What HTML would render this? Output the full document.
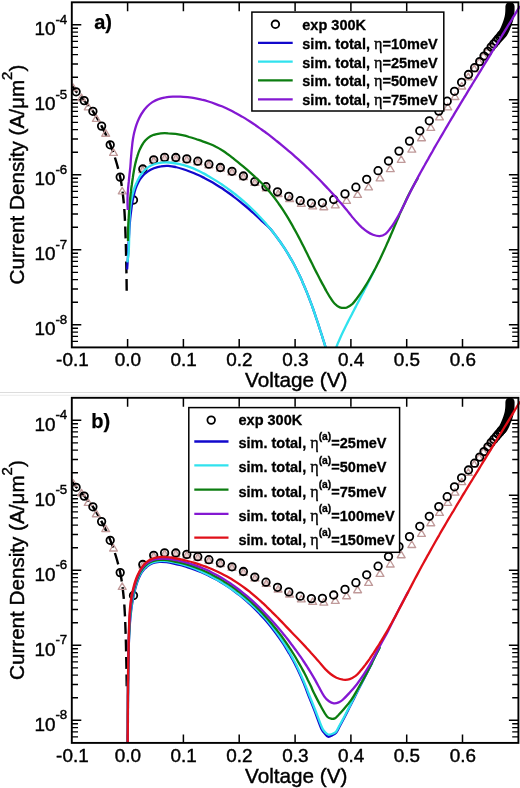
<!DOCTYPE html>
<html lang="en"><head><meta charset="utf-8"><title>Current density vs voltage</title>
<style>
html,body{margin:0;padding:0;background:#fff}
body{width:520px;height:788px;overflow:hidden}
svg{display:block}
.t text{font-family:"Liberation Sans", sans-serif;fill:#000}
.r text{stroke:#000;stroke-width:.42px}
</style></head><body>
<svg width="520" height="788" viewBox="0 0 520 788">
<defs><clipPath id="ca"><rect x="71.8" y="2.3" width="448.6" height="345.1"/></clipPath><clipPath id="cb"><rect x="71.8" y="397.8" width="448.6" height="345.1"/></clipPath></defs>
<filter id="soft" x="0" y="0" width="100%" height="100%" filterUnits="userSpaceOnUse" color-interpolation-filters="sRGB"><feGaussianBlur stdDeviation="0.38"/></filter>
<g filter="url(#soft)">
<rect width="520" height="788" fill="#fff"/>
<path d="M0 392.5H520" stroke="#dcdcdc" stroke-width="1.2"/><path d="M0 395.3H520" stroke="#ececec" stroke-width="1"/>
<g class="t">
<path d="M127.6 2.3v9M127.6 347.4v-8.5M183.4 2.3v9M183.4 347.4v-8.5M239.2 2.3v9M239.2 347.4v-8.5M295.1 2.3v9M295.1 347.4v-8.5M350.9 2.3v9M350.9 347.4v-8.5M406.7 2.3v9M406.7 347.4v-8.5M462.5 2.3v9M462.5 347.4v-8.5" stroke="#000" stroke-width="1.5" fill="none"/>
<path d="M71.8 341.4h6.2M518.4 341.4h-6.2M71.8 336.4h6.2M518.4 336.4h-6.2M71.8 332.1h6.2M518.4 332.1h-6.2M71.8 328.2h6.2M518.4 328.2h-6.2M71.8 324.8h9.5M518.4 324.8h-9.5M71.8 302.2h6.2M518.4 302.2h-6.2M71.8 289h6.2M518.4 289h-6.2M71.8 279.6h6.2M518.4 279.6h-6.2M71.8 272.4h6.2M518.4 272.4h-6.2M71.8 266.4h6.2M518.4 266.4h-6.2M71.8 261.4h6.2M518.4 261.4h-6.2M71.8 257.1h6.2M518.4 257.1h-6.2M71.8 253.2h6.2M518.4 253.2h-6.2M71.8 249.8h9.5M518.4 249.8h-9.5M71.8 227.2h6.2M518.4 227.2h-6.2M71.8 214h6.2M518.4 214h-6.2M71.8 204.6h6.2M518.4 204.6h-6.2M71.8 197.4h6.2M518.4 197.4h-6.2M71.8 191.4h6.2M518.4 191.4h-6.2M71.8 186.4h6.2M518.4 186.4h-6.2M71.8 182.1h6.2M518.4 182.1h-6.2M71.8 178.2h6.2M518.4 178.2h-6.2M71.8 174.8h9.5M518.4 174.8h-9.5M71.8 152.2h6.2M518.4 152.2h-6.2M71.8 139h6.2M518.4 139h-6.2M71.8 129.6h6.2M518.4 129.6h-6.2M71.8 122.4h6.2M518.4 122.4h-6.2M71.8 116.4h6.2M518.4 116.4h-6.2M71.8 111.4h6.2M518.4 111.4h-6.2M71.8 107.1h6.2M518.4 107.1h-6.2M71.8 103.2h6.2M518.4 103.2h-6.2M71.8 99.8h9.5M518.4 99.8h-9.5M71.8 77.2h6.2M518.4 77.2h-6.2M71.8 64h6.2M518.4 64h-6.2M71.8 54.6h6.2M518.4 54.6h-6.2M71.8 47.4h6.2M518.4 47.4h-6.2M71.8 41.4h6.2M518.4 41.4h-6.2M71.8 36.4h6.2M518.4 36.4h-6.2M71.8 32.1h6.2M518.4 32.1h-6.2M71.8 28.2h6.2M518.4 28.2h-6.2M71.8 24.8h9.5M518.4 24.8h-9.5" stroke="#000" stroke-width="1.4" fill="none"/>
<g clip-path="url(#ca)">
<path d="M71.8 85.5C73.2 87.5 74.5 89.6 76.1 91.5C78.7 94.6 81.6 97.5 84.2 100.6C87.2 104.1 90.3 107.5 92.9 111.3C96.1 116 99 121 101.6 126.1C104.8 132.1 107.7 138.3 110.3 144.6C112.5 149.9 114.3 155.5 116 161C117.6 166.3 119 171.7 120.2 177.1C121.2 182 122 187 122.6 192C123.4 198.6 124.1 205.3 124.5 212C125.1 221.3 125.4 230.7 125.7 240C126 248.3 126.1 256.7 126.3 265C126.5 273.6 126.6 282.2 126.7 290.8" fill="none" stroke="#000" stroke-width="2.4" stroke-dasharray="11.9 5.6" stroke-dashoffset="2.86"/>
<path d="M73.2 84l3.9 6.5h-7.8zM81.5 94l3.9 6.5h-7.8zM88.2 103.3l3.9 6.5h-7.8zM96.3 114.8l3.9 6.5h-7.8zM105.7 129.7l3.9 6.5h-7.8zM113.5 148.9l3.9 6.5h-7.8zM122.2 187.3l3.9 6.5h-7.8zM301.3 199.8l3.9 6.5h-7.8zM312.7 202.3l3.9 6.5h-7.8zM323.8 203.2l3.9 6.5h-7.8zM335.3 201.3l3.9 6.5h-7.8zM346.6 196.8l3.9 6.5h-7.8zM357.6 190.8l3.9 6.5h-7.8zM368.6 183.3l3.9 6.5h-7.8zM380 174.3l3.9 6.5h-7.8zM390.3 165.1l3.9 6.5h-7.8zM401.2 155.8l3.9 6.5h-7.8zM411.8 145.6l3.9 6.5h-7.8zM421.5 134.2l3.9 6.5h-7.8zM430.8 123.8l3.9 6.5h-7.8zM439.5 113.3l3.9 6.5h-7.8zM447.8 103.3l3.9 6.5h-7.8zM455 93l3.9 6.5h-7.8zM461.8 82.5l3.9 6.5h-7.8zM468.3 73.2l3.9 6.5h-7.8zM474.2 65.2l3.9 6.5h-7.8zM479.2 58.4l3.9 6.5h-7.8zM483.4 52.5l3.9 6.5h-7.8zM487.3 47.5l3.9 6.5h-7.8zM490.5 43.2l3.9 6.5h-7.8z" fill="none" stroke="#c09a9a" stroke-width="1.35" stroke-linejoin="round"/>
<path d="M142.8 166.1l3.9 6.5h-7.8zM153.7 156.9l3.9 6.5h-7.8zM164.6 154.5l3.9 6.5h-7.8zM175.8 154.6l3.9 6.5h-7.8zM186.8 156l3.9 6.5h-7.8zM197.8 158.2l3.9 6.5h-7.8zM208.9 161.2l3.9 6.5h-7.8zM220.4 164.6l3.9 6.5h-7.8zM232 168.4l3.9 6.5h-7.8zM243.4 173.1l3.9 6.5h-7.8zM254.9 178.9l3.9 6.5h-7.8zM266.3 184.4l3.9 6.5h-7.8zM278.1 190l3.9 6.5h-7.8zM289.6 195.1l3.9 6.5h-7.8z" fill="#e9d2d2" stroke="#c09a9a" stroke-width="1.35" stroke-linejoin="round"/>
<g fill="none" stroke="#000" stroke-width="1.8"><circle cx="76.1" cy="91.8" r="3.75"/><circle cx="84.2" cy="100.6" r="3.75"/><circle cx="92.9" cy="111.3" r="3.75"/><circle cx="101.6" cy="126.1" r="3.75"/><circle cx="110.2" cy="144.8" r="3.75"/><circle cx="120.2" cy="177.1" r="3.75"/><circle cx="133.5" cy="200" r="3.75"/><circle cx="142.8" cy="169" r="3.75"/><circle cx="153.7" cy="159.8" r="3.75"/><circle cx="164.6" cy="157.4" r="3.75"/><circle cx="175.8" cy="157.5" r="3.75"/><circle cx="186.8" cy="158.9" r="3.75"/><circle cx="197.8" cy="161.2" r="3.75"/><circle cx="208.9" cy="164.2" r="3.75"/><circle cx="220.4" cy="167.5" r="3.75"/><circle cx="232" cy="171.3" r="3.75"/><circle cx="243.4" cy="176" r="3.75"/><circle cx="254.8" cy="181.6" r="3.75"/><circle cx="266" cy="186.7" r="3.75"/><circle cx="277.5" cy="191.8" r="3.75"/><circle cx="288.8" cy="196.4" r="3.75"/><circle cx="300.2" cy="200.7" r="3.75"/><circle cx="311.4" cy="203.1" r="3.75"/><circle cx="322.4" cy="202.8" r="3.75"/><circle cx="333.7" cy="199.5" r="3.75"/><circle cx="345" cy="193.9" r="3.75"/><circle cx="355.9" cy="187.2" r="3.75"/><circle cx="366.7" cy="179.3" r="3.75"/><circle cx="378.1" cy="170.7" r="3.75"/><circle cx="388.5" cy="161" r="3.75"/><circle cx="399" cy="151.1" r="3.75"/><circle cx="409.5" cy="141.1" r="3.75"/><circle cx="419.8" cy="130.8" r="3.75"/><circle cx="429.3" cy="120.8" r="3.75"/><circle cx="438.8" cy="111.1" r="3.75"/><circle cx="447.2" cy="101.2" r="3.75"/><circle cx="454.5" cy="91.3" r="3.75"/><circle cx="461.6" cy="82.3" r="3.75"/><circle cx="468.5" cy="74.5" r="3.75"/><circle cx="474.6" cy="67.7" r="3.75"/><circle cx="479.7" cy="61.6" r="3.75"/><circle cx="484" cy="56.1" r="3.75"/><circle cx="487.9" cy="51.3" r="3.75"/><circle cx="491.1" cy="47" r="3.75"/><circle cx="493.8" cy="43.9" r="3.75"/><circle cx="496.1" cy="41.2" r="3.75"/><circle cx="498.1" cy="38.8" r="3.75"/><circle cx="499.9" cy="36.7" r="3.75"/><circle cx="501.4" cy="34.9" r="3.75"/></g>
<path d="M502.9 33.4C503.7 31.9 504.5 30.4 505.2 28.8C506 26.9 506.8 25 507.5 23C508.2 21.1 508.8 19.2 509.2 17.3C509.6 15.4 509.8 13.4 509.9 11.5C510 9.9 510 8.2 510 6.6" fill="none" stroke="#000" stroke-width="9.2" stroke-linecap="round"/>
<path d="M127.1 269.5C127.3 267 127.5 264.5 127.6 262C127.8 259.5 127.9 257.1 128.1 254.6C128.2 252.2 128.3 249.8 128.4 247.4C128.5 245 128.6 242.6 128.8 240.2C128.9 237.8 129 235.5 129.2 233.1C129.3 230.7 129.4 228.3 129.6 225.9C129.8 223.5 130 221.1 130.2 218.7C130.5 216.3 130.7 213.8 131.1 211.4C131.4 208.9 131.7 206.4 132.1 203.9C132.5 201.4 132.9 198.9 133.5 196.4C134.1 193.9 134.7 191.4 135.5 189C136.3 186.7 137.2 184.4 138.4 182.2C139.5 180.1 140.8 178.1 142.4 176.3C143.9 174.5 145.7 172.9 147.6 171.6C149.6 170.2 151.7 169.1 153.9 168.2C156.2 167.3 158.6 166.6 160.9 166.3C163.3 165.9 165.8 165.8 168.2 165.9C170.6 166.1 173.1 166.5 175.5 167C177.9 167.6 180.3 168.3 182.6 169C185 169.8 187.3 170.6 189.6 171.5C191.9 172.4 194.2 173.3 196.4 174.3C198.7 175.3 200.9 176.3 203.1 177.4C205.2 178.5 207.4 179.6 209.5 180.8C211.7 182 213.8 183.2 215.8 184.4C217.9 185.7 220 187 222 188.3C224 189.7 226.1 191 228 192.5C230 193.9 232 195.3 233.9 196.8C235.9 198.3 237.8 199.8 239.7 201.3C241.6 202.8 243.5 204.4 245.4 206C247.2 207.5 249.1 209.1 250.9 210.8C252.7 212.4 254.5 214.1 256.3 215.7C258.1 217.4 259.9 219.1 261.7 220.8C264.3 223.2 267.2 225.5 269.7 228.1C271.4 229.8 272.8 231.8 274.2 233.7C275.7 235.6 277.1 237.5 278.5 239.5C279.9 241.4 281.3 243.4 282.6 245.4C284 247.4 285.3 249.4 286.5 251.4C287.8 253.4 289 255.5 290.2 257.6C291.4 259.6 292.6 261.7 293.7 263.8C294.8 265.9 295.9 268 297 270.2C298.1 272.3 299.1 274.5 300.1 276.6C301.1 278.8 302.1 281 303 283.2C304 285.4 304.9 287.6 305.8 289.8C306.7 292 307.6 294.3 308.5 296.5C309.3 298.7 310.2 301 311 303.2C311.9 305.5 312.7 307.8 313.5 310C314.3 312.3 315 314.6 315.8 316.8C316.6 319.1 317.3 321.4 318.1 323.7C318.8 326 319.6 328.3 320.3 330.6C321.1 332.8 321.8 335.1 322.5 337.4C323.2 339.7 324 342 324.7 344.3C325.4 346.6 326.1 348.9 326.8 351.2C327.6 353.4 328.3 355.7 329 358" fill="none" stroke="#1208cc" stroke-width="2.3" stroke-linejoin="round" />
<path d="M127.4 262.4C127.7 260 128.1 257.7 128.3 255.3C128.6 253 128.7 250.6 128.9 248.2C129 245.8 129.1 243.4 129.1 241C129.2 238.6 129.2 236.2 129.2 233.8C129.3 231.3 129.3 228.9 129.3 226.5C129.4 224.1 129.4 221.7 129.5 219.2C129.6 216.8 129.7 214.4 129.9 212C130.1 209.6 130.3 207.2 130.6 204.8C130.9 202.4 131.3 200.1 131.8 197.7C132.3 195.3 132.9 193 133.6 190.7C134.3 188.3 135.1 186 136.1 183.8C137 181.5 138.1 179.3 139.3 177.2C140.6 175.2 141.9 173.2 143.5 171.5C145 169.8 146.7 168.2 148.6 166.9C150.5 165.7 152.7 164.7 154.8 164C157 163.2 159.4 162.8 161.8 162.6C164.2 162.4 166.7 162.4 169.2 162.5C171.7 162.7 174.2 163 176.6 163.5C179 163.9 181.4 164.5 183.7 165.1C186 165.8 188.3 166.5 190.6 167.4C192.8 168.2 195 169.2 197.2 170.2C199.3 171.2 201.4 172.3 203.6 173.4C205.7 174.5 207.7 175.7 209.8 176.9C211.9 178.1 213.9 179.3 215.9 180.6C217.9 181.9 220 183.2 221.9 184.5C223.9 185.9 225.9 187.2 227.8 188.7C229.8 190.1 231.7 191.5 233.6 193C235.5 194.4 237.4 195.9 239.2 197.5C241.1 199 242.9 200.6 244.7 202.2C246.5 203.7 248.3 205.4 250 207C251.8 208.7 253.5 210.3 255.2 212C256.9 213.7 258.6 215.5 260.2 217.2C261.9 219 263.5 220.8 265.1 222.6C266.6 224.4 268.2 226.2 269.7 228.1C271.3 229.9 272.8 231.8 274.2 233.7C275.7 235.6 277.1 237.5 278.5 239.5C279.9 241.4 281.3 243.4 282.6 245.4C284 247.4 285.3 249.4 286.5 251.4C287.8 253.4 289 255.5 290.2 257.6C291.4 259.6 292.6 261.7 293.7 263.8C294.8 265.9 295.9 268 297 270.2C298.1 272.3 299.1 274.5 300.1 276.6C301.1 278.8 302.1 281 303 283.2C304 285.4 304.9 287.6 305.8 289.8C306.7 292 307.6 294.3 308.5 296.5C309.3 298.7 310.2 301 311 303.2C311.9 305.5 312.7 307.8 313.5 310C314.3 312.3 315 314.6 315.8 316.8C316.6 319.1 317.3 321.4 318.1 323.7C318.8 326 319.6 328.3 320.3 330.6C321.1 332.8 321.8 335.1 322.5 337.4C323.2 339.7 324 342 324.7 344.3C325.4 346.6 326.1 348.9 326.8 351.2C327.6 353.4 328.3 355.7 329 358" fill="none" stroke="#30e2ee" stroke-width="2.3" stroke-linejoin="round" />
<path d="M332.5 358C333.4 355.4 334.2 352.8 335.1 350.3C336.1 347.8 337.1 345.2 338.1 342.7C339.2 340.2 340.3 337.8 341.4 335.3C342.6 332.8 343.7 330.4 344.9 327.9C346.1 325.5 347.4 323.1 348.6 320.6C349.8 318.2 351.1 315.8 352.3 313.4C353.6 311 354.8 308.5 356.1 306.1C357.3 303.7 358.6 301.3 359.8 298.9C361.1 296.5 362.3 294.1 363.6 291.6C364.8 289.2 366.1 286.8 367.3 284.4C368.5 281.9 369.8 279.5 371 277.1C372.2 274.7 373.4 272.2 374.6 269.8" fill="none" stroke="#30e2ee" stroke-width="2.3" stroke-linejoin="round" />
<path d="M128 241C128 238.6 128 236.3 128.1 233.9C128.1 231.5 128.2 229.2 128.2 226.8C128.3 224.4 128.4 222.1 128.6 219.7C128.7 217.3 128.8 214.9 129 212.5C129.1 210.2 129.3 207.8 129.5 205.4C129.7 203 129.9 200.7 130.2 198.3C130.4 195.9 130.7 193.6 131 191.2C131.2 188.9 131.5 186.5 131.9 184.2C132.2 181.8 132.5 179.5 132.9 177.2C133.2 174.9 133.6 172.5 134 170.2C134.4 167.9 134.9 165.6 135.4 163.3C136 161 136.5 158.6 137.3 156.3C138 154 138.8 151.7 139.8 149.4C140.8 147.3 141.8 145.1 143.2 143.2C144.5 141.3 146 139.5 147.8 138.1C149.5 136.7 151.6 135.6 153.7 134.8C156 134 158.4 133.7 160.8 133.4C163.3 133.1 165.8 133.2 168.3 133.3C170.7 133.3 173.1 133.6 175.5 133.9C177.8 134.2 180.1 134.7 182.4 135.2C184.7 135.7 187 136.3 189.2 137C191.5 137.6 193.7 138.3 195.9 139C198.2 139.8 200.4 140.5 202.6 141.3C204.9 142.1 207.1 142.9 209.3 143.8C211.6 144.7 213.8 145.6 215.9 146.7C218 147.7 220.1 148.9 222.1 150.2C224.1 151.4 226 152.8 227.9 154.3C229.9 155.7 231.7 157.2 233.6 158.7C235.4 160.2 237.3 161.7 239.1 163.2C240.9 164.7 242.8 166.2 244.6 167.7C246.4 169.2 248.2 170.7 250 172.3C251.7 173.8 253.5 175.4 255.2 177C257 178.6 258.7 180.2 260.3 181.8C262 183.5 263.7 185.2 265.3 186.9C266.9 188.7 268.4 190.4 270 192.3C271.5 194.1 273 196 274.5 197.9C275.9 199.8 277.3 201.7 278.7 203.7C280.1 205.6 281.5 207.6 282.8 209.6C284.1 211.6 285.4 213.7 286.6 215.7C287.9 217.8 289.1 219.8 290.3 221.9C291.5 223.9 292.7 226 293.8 228.1C295 230.1 296.1 232.2 297.2 234.3C298.3 236.4 299.4 238.4 300.5 240.5C301.5 242.6 302.6 244.7 303.7 246.8C304.7 248.9 305.8 251 306.8 253.1C307.8 255.2 308.9 257.3 309.9 259.4C311 261.5 312 263.6 313.1 265.7C314.1 267.9 315.2 270 316.3 272.1C317.4 274.2 318.5 276.4 319.6 278.5C320.7 280.6 321.8 282.8 323 284.9C324.2 287 325.3 289.2 326.5 291.3C327.8 293.4 328.9 295.6 330.3 297.7C331.6 299.7 332.8 301.9 334.5 303.5C336 305.1 337.8 306.6 339.8 307.3C341.8 308 344.5 308.1 346.6 307.6C348.7 307 350.8 305.4 352.5 303.9C354.2 302.3 355.5 300.2 357 298.2C358.4 296.3 359.8 294.3 361.2 292.3C362.5 290.4 363.8 288.4 365.1 286.3C366.4 284.3 367.6 282.3 368.8 280.2C370 278.2 371.2 276.1 372.3 274C373.5 272 374.6 269.9 375.7 267.8C376.8 265.7 377.8 263.5 378.9 261.4C379.9 259.3 380.9 257.2 381.9 255C382.9 252.9 383.9 250.7 384.9 248.6C385.9 246.4 386.8 244.2 387.8 242.1C388.7 239.9 389.7 237.7 390.6 235.5C391.5 233.4 392.5 231.2 393.4 229C394.3 226.8 395.2 224.6 396.2 222.4C397.1 220.3 398 218.1 399 215.9C399.9 213.7 400.9 211.6 401.8 209.4C402.8 207.3 403.8 205.1 404.8 203C405.8 200.8 406.8 198.7 407.8 196.6C408.8 194.5 409.9 192.4 411 190.3C412.1 188.2 413.2 186.1 414.4 184C415.6 181.9 416.8 179.9 418 177.8" fill="none" stroke="#0c7d10" stroke-width="2.3" stroke-linejoin="round" />
<path d="M127.8 210C127.7 207.6 127.5 205.2 127.5 202.8C127.5 200.4 127.5 198 127.6 195.6C127.7 193.2 127.9 190.9 128.1 188.5C128.3 186.1 128.5 183.8 128.8 181.4C129 179.1 129.3 176.7 129.5 174.4C129.8 172 130 169.7 130.3 167.3C130.5 164.9 130.7 162.5 130.8 160.2C131 157.8 131.2 155.4 131.4 153C131.6 150.6 131.8 148.2 132.1 145.8C132.3 143.5 132.6 141.1 133 138.7C133.4 136.4 133.8 134 134.4 131.7C135 129.4 135.6 127.1 136.4 124.8C137.2 122.6 138.1 120.3 139.1 118.2C140.2 116 141.3 113.9 142.7 112C144 110 145.5 108.2 147.1 106.5C148.7 104.9 150.5 103.3 152.4 102.1C154.3 100.9 156.4 99.8 158.6 99.1C160.8 98.3 163.2 97.7 165.5 97.4C167.9 97 170.4 96.8 172.9 96.7C175.3 96.6 177.8 96.6 180.3 96.7C182.7 96.8 185.1 97 187.5 97.2C189.9 97.5 192.3 97.8 194.6 98.2C197 98.6 199.3 99.1 201.6 99.7C203.9 100.2 206.2 100.8 208.5 101.5C210.7 102.2 213 103 215.2 103.8C217.4 104.6 219.6 105.4 221.8 106.3C224 107.3 226.1 108.2 228.3 109.3C230.4 110.3 232.5 111.3 234.6 112.5C236.7 113.6 238.8 114.7 240.9 115.9C242.9 117.1 245 118.3 247 119.6C249 120.9 251 122.2 253 123.5C255 124.8 257 126.2 258.9 127.6C260.9 129 262.8 130.4 264.8 131.8C266.7 133.2 268.6 134.7 270.5 136.1C272.4 137.6 274.3 139.1 276.1 140.6C278 142.1 279.8 143.5 281.7 145.1C283.5 146.6 285.3 148.1 287.1 149.6C288.9 151.1 290.7 152.7 292.5 154.2C294.3 155.8 296 157.3 297.8 158.9C299.6 160.5 301.3 162.1 303 163.7C304.7 165.3 306.5 166.9 308.2 168.5C309.9 170.2 311.6 171.8 313.2 173.5C314.9 175.1 316.6 176.8 318.3 178.5C319.9 180.2 321.6 181.9 323.2 183.6C324.9 185.3 326.5 187.1 328.1 188.8C329.7 190.6 331.3 192.3 333 194.1C334.6 195.9 336.2 197.7 337.7 199.5C339.3 201.3 340.9 203.2 342.5 205C344.1 206.9 345.6 208.8 347.2 210.6C348.7 212.5 350.3 214.5 351.8 216.4C353.4 218.3 354.9 220.2 356.6 222C358.2 223.8 359.8 225.6 361.5 227.2C363.3 228.7 365 230.3 367 231.5C368.9 232.8 370.9 233.9 373 234.7C375.1 235.5 377.5 236.2 379.6 236.1C381.7 236 384 235 385.6 233.8C387.5 232.4 388.9 230.2 390.4 228.3C391.9 226.4 393.2 224.4 394.5 222.3C395.8 220.3 397 218.2 398.2 216.1C399.4 214 400.5 211.9 401.6 209.8C402.7 207.6 403.7 205.5 404.8 203.3C405.8 201.2 406.8 199 407.9 196.9C409 194.7 410 192.6 411.1 190.5C412.2 188.3 413.3 186.2 414.4 184.1C415.5 182 416.6 179.9 417.7 177.8C418.8 175.7 420 173.6 421.1 171.5C422.3 169.4 423.4 167.4 424.6 165.3C425.7 163.2 426.9 161.1 428.1 159.1C429.2 157 430.4 154.9 431.6 152.9C432.8 150.8 433.9 148.7 435.1 146.7C436.3 144.6 437.5 142.5 438.7 140.5C439.9 138.4 441.1 136.4 442.3 134.3C443.5 132.3 444.7 130.2 445.9 128.2C447.1 126.1 448.3 124.1 449.5 122C450.7 120 452 117.9 453.2 115.9C454.4 113.8 455.6 111.8 456.9 109.7C458.1 107.7 459.3 105.7 460.5 103.6C461.8 101.6 463 99.5 464.2 97.5C465.5 95.5 466.7 93.4 467.9 91.4C469.2 89.4 470.4 87.3 471.6 85.3C472.9 83.3 474.1 81.2 475.4 79.2C476.6 77.2 477.9 75.1 479.1 73.1C480.3 71.1 481.6 69 482.8 67C484.1 65 485.3 62.9 486.6 60.9C487.8 58.9 489.1 56.8 490.3 54.8C491.5 52.8 492.8 50.7 494 48.7C495.3 46.7 496.5 44.7 497.8 42.6C499 40.6 500.2 38.6 501.5 36.5C502.7 34.5 504 32.5 505.2 30.4C506.4 28.4 507.7 26.4 508.9 24.3C510.2 22.3 511.4 20.3 512.6 18.2C513.9 16.2 515.1 14.2 516.3 12.1C517.5 10.1 518.8 8 520 6" fill="none" stroke="#8418d2" stroke-width="2.3" stroke-linejoin="round" />
</g>
<rect x="71.8" y="2.3" width="446.6" height="345.1" fill="none" stroke="#000" stroke-width="1.9"/>
<rect x="251.9" y="12.1" width="191.9" height="98.9" fill="#fff" stroke="#000" stroke-width="1.5"/>
<circle cx="275.4" cy="24.3" r="3.8" fill="none" stroke="#000" stroke-width="1.8"/>
<g font-size="14.5" font-weight="bold" stroke="#000" stroke-width="0.3">
<text x="302.3" y="29.6">exp 300K</text>
<path d="M258 42.9H292.7" stroke="#1208cc" stroke-width="2.3"/>
<text x="302.3" y="48.8">sim. total, <tspan font-family="'Liberation Serif', 'DejaVu Serif', serif" font-weight="normal" font-size="16.2" stroke-width="0.35">η</tspan>=10meV</text>
<path d="M258 61.7H292.7" stroke="#30e2ee" stroke-width="2.3"/>
<text x="302.3" y="67.6">sim. total, <tspan font-family="'Liberation Serif', 'DejaVu Serif', serif" font-weight="normal" font-size="16.2" stroke-width="0.35">η</tspan>=25meV</text>
<path d="M258 80.3H292.7" stroke="#0c7d10" stroke-width="2.3"/>
<text x="302.3" y="86.2">sim. total, <tspan font-family="'Liberation Serif', 'DejaVu Serif', serif" font-weight="normal" font-size="16.2" stroke-width="0.35">η</tspan>=50meV</text>
<path d="M258 99.4H292.7" stroke="#8418d2" stroke-width="2.3"/>
<text x="302.3" y="105.3">sim. total, <tspan font-family="'Liberation Serif', 'DejaVu Serif', serif" font-weight="normal" font-size="16.2" stroke-width="0.35">η</tspan>=75meV</text>
</g>
<g class="r">
<text x="34.4" y="335.4" font-size="18.9">10<tspan dy="-11.7" font-size="13.3">-8</tspan></text>
<text x="34.4" y="260.4" font-size="18.9">10<tspan dy="-11.7" font-size="13.3">-7</tspan></text>
<text x="34.4" y="185.4" font-size="18.9">10<tspan dy="-11.7" font-size="13.3">-6</tspan></text>
<text x="34.4" y="110.4" font-size="18.9">10<tspan dy="-11.7" font-size="13.3">-5</tspan></text>
<text x="34.4" y="35.4" font-size="18.9">10<tspan dy="-11.7" font-size="13.3">-4</tspan></text>
<text x="72.4" y="366.3" font-size="18.9" text-anchor="middle">-0.1</text>
<text x="127.9" y="366.3" font-size="18.9" text-anchor="middle">0.0</text>
<text x="183.7" y="366.3" font-size="18.9" text-anchor="middle">0.1</text>
<text x="239.5" y="366.3" font-size="18.9" text-anchor="middle">0.2</text>
<text x="295.4" y="366.3" font-size="18.9" text-anchor="middle">0.3</text>
<text x="351.2" y="366.3" font-size="18.9" text-anchor="middle">0.4</text>
<text x="407" y="366.3" font-size="18.9" text-anchor="middle">0.5</text>
<text x="462.8" y="366.3" font-size="18.9" text-anchor="middle">0.6</text>
<text x="296.2" y="387.2" font-size="20.7" text-anchor="middle">Voltage (V)</text>
<text transform="translate(23.9 174.6) rotate(-90)" font-size="20.65" text-anchor="middle">Current Density (A/μm<tspan dy="-11.5" font-size="15">2</tspan><tspan dy="11.5">)</tspan></text>
</g>
<text x="94.2" y="29.3" font-size="20" font-weight="bold" stroke="#000" stroke-width="0.25">a)</text>
<path d="M127.6 397.8v9M127.6 742.9v-8.5M183.4 397.8v9M183.4 742.9v-8.5M239.2 397.8v9M239.2 742.9v-8.5M295.1 397.8v9M295.1 742.9v-8.5M350.9 397.8v9M350.9 742.9v-8.5M406.7 397.8v9M406.7 742.9v-8.5M462.5 397.8v9M462.5 742.9v-8.5" stroke="#000" stroke-width="1.5" fill="none"/>
<path d="M71.8 736.9h6.2M518.4 736.9h-6.2M71.8 731.9h6.2M518.4 731.9h-6.2M71.8 727.6h6.2M518.4 727.6h-6.2M71.8 723.7h6.2M518.4 723.7h-6.2M71.8 720.3h9.5M518.4 720.3h-9.5M71.8 697.7h6.2M518.4 697.7h-6.2M71.8 684.5h6.2M518.4 684.5h-6.2M71.8 675.1h6.2M518.4 675.1h-6.2M71.8 667.9h6.2M518.4 667.9h-6.2M71.8 661.9h6.2M518.4 661.9h-6.2M71.8 656.9h6.2M518.4 656.9h-6.2M71.8 652.6h6.2M518.4 652.6h-6.2M71.8 648.7h6.2M518.4 648.7h-6.2M71.8 645.3h9.5M518.4 645.3h-9.5M71.8 622.7h6.2M518.4 622.7h-6.2M71.8 609.5h6.2M518.4 609.5h-6.2M71.8 600.1h6.2M518.4 600.1h-6.2M71.8 592.9h6.2M518.4 592.9h-6.2M71.8 586.9h6.2M518.4 586.9h-6.2M71.8 581.9h6.2M518.4 581.9h-6.2M71.8 577.6h6.2M518.4 577.6h-6.2M71.8 573.7h6.2M518.4 573.7h-6.2M71.8 570.3h9.5M518.4 570.3h-9.5M71.8 547.7h6.2M518.4 547.7h-6.2M71.8 534.5h6.2M518.4 534.5h-6.2M71.8 525.1h6.2M518.4 525.1h-6.2M71.8 517.9h6.2M518.4 517.9h-6.2M71.8 511.9h6.2M518.4 511.9h-6.2M71.8 506.9h6.2M518.4 506.9h-6.2M71.8 502.6h6.2M518.4 502.6h-6.2M71.8 498.7h6.2M518.4 498.7h-6.2M71.8 495.3h9.5M518.4 495.3h-9.5M71.8 472.7h6.2M518.4 472.7h-6.2M71.8 459.5h6.2M518.4 459.5h-6.2M71.8 450.1h6.2M518.4 450.1h-6.2M71.8 442.9h6.2M518.4 442.9h-6.2M71.8 436.9h6.2M518.4 436.9h-6.2M71.8 431.9h6.2M518.4 431.9h-6.2M71.8 427.6h6.2M518.4 427.6h-6.2M71.8 423.7h6.2M518.4 423.7h-6.2M71.8 420.3h9.5M518.4 420.3h-9.5" stroke="#000" stroke-width="1.4" fill="none"/>
<g clip-path="url(#cb)">
<path d="M71.8 481C73.2 483 74.5 485.1 76.1 487C78.7 490.1 81.6 493 84.2 496.1C87.2 499.6 90.3 503 92.9 506.8C96.1 511.5 99 516.5 101.6 521.6C104.8 527.6 107.7 533.8 110.3 540.1C112.5 545.4 114.3 551 116 556.5C117.6 561.8 119 567.2 120.2 572.6C121.2 577.5 122 582.5 122.6 587.5C123.4 594.1 124.1 600.8 124.5 607.5C125.1 616.8 125.4 626.2 125.7 635.5C126 643.8 126.1 652.2 126.3 660.5C126.5 669.1 126.6 677.7 126.7 686.3" fill="none" stroke="#000" stroke-width="2.4" stroke-dasharray="11.9 5.6" stroke-dashoffset="2.86"/>
<path d="M73.2 479.6l3.9 6.5h-7.8zM81.5 489.4l3.9 6.5h-7.8zM88.2 498.9l3.9 6.5h-7.8zM96.3 510.2l3.9 6.5h-7.8zM105.7 525.1l3.9 6.5h-7.8zM113.5 544.5l3.9 6.5h-7.8zM122.2 582.9l3.9 6.5h-7.8zM301.3 595.3l3.9 6.5h-7.8zM312.7 597.9l3.9 6.5h-7.8zM323.8 598.6l3.9 6.5h-7.8zM335.3 596.9l3.9 6.5h-7.8zM346.6 592.2l3.9 6.5h-7.8zM357.6 586.2l3.9 6.5h-7.8zM368.6 578.9l3.9 6.5h-7.8zM380 569.9l3.9 6.5h-7.8zM390.3 560.5l3.9 6.5h-7.8zM401.2 551.2l3.9 6.5h-7.8zM411.8 541l3.9 6.5h-7.8zM421.5 529.8l3.9 6.5h-7.8zM430.8 519.2l3.9 6.5h-7.8zM439.5 508.9l3.9 6.5h-7.8zM447.8 498.9l3.9 6.5h-7.8zM455 488.6l3.9 6.5h-7.8zM461.8 478.1l3.9 6.5h-7.8zM468.3 468.8l3.9 6.5h-7.8zM474.2 460.6l3.9 6.5h-7.8zM479.2 453.9l3.9 6.5h-7.8zM483.4 448.1l3.9 6.5h-7.8zM487.3 443.1l3.9 6.5h-7.8zM490.5 438.8l3.9 6.5h-7.8z" fill="none" stroke="#c09a9a" stroke-width="1.35" stroke-linejoin="round"/>
<path d="M142.8 561.5l3.9 6.5h-7.8zM153.7 552.4l3.9 6.5h-7.8zM164.6 550l3.9 6.5h-7.8zM175.8 550l3.9 6.5h-7.8zM186.8 551.5l3.9 6.5h-7.8zM197.8 553.8l3.9 6.5h-7.8zM208.9 556.8l3.9 6.5h-7.8zM220.4 560l3.9 6.5h-7.8zM232 563.9l3.9 6.5h-7.8zM243.4 568.5l3.9 6.5h-7.8zM254.9 574.4l3.9 6.5h-7.8zM266.3 579.9l3.9 6.5h-7.8zM278.1 585.5l3.9 6.5h-7.8zM289.6 590.6l3.9 6.5h-7.8z" fill="#e9d2d2" stroke="#c09a9a" stroke-width="1.35" stroke-linejoin="round"/>
<g fill="none" stroke="#000" stroke-width="1.8"><circle cx="76.1" cy="487.3" r="3.75"/><circle cx="84.2" cy="496.1" r="3.75"/><circle cx="92.9" cy="506.8" r="3.75"/><circle cx="101.6" cy="521.6" r="3.75"/><circle cx="110.2" cy="540.3" r="3.75"/><circle cx="120.2" cy="572.6" r="3.75"/><circle cx="133.5" cy="595.5" r="3.75"/><circle cx="142.8" cy="564.5" r="3.75"/><circle cx="153.7" cy="555.3" r="3.75"/><circle cx="164.6" cy="552.9" r="3.75"/><circle cx="175.8" cy="553" r="3.75"/><circle cx="186.8" cy="554.4" r="3.75"/><circle cx="197.8" cy="556.7" r="3.75"/><circle cx="208.9" cy="559.7" r="3.75"/><circle cx="220.4" cy="563" r="3.75"/><circle cx="232" cy="566.8" r="3.75"/><circle cx="243.4" cy="571.5" r="3.75"/><circle cx="254.8" cy="577.1" r="3.75"/><circle cx="266" cy="582.2" r="3.75"/><circle cx="277.5" cy="587.3" r="3.75"/><circle cx="288.8" cy="591.9" r="3.75"/><circle cx="300.2" cy="596.2" r="3.75"/><circle cx="311.4" cy="598.6" r="3.75"/><circle cx="322.4" cy="598.3" r="3.75"/><circle cx="333.7" cy="595" r="3.75"/><circle cx="345" cy="589.4" r="3.75"/><circle cx="355.9" cy="582.7" r="3.75"/><circle cx="366.7" cy="574.8" r="3.75"/><circle cx="378.1" cy="566.2" r="3.75"/><circle cx="388.5" cy="556.5" r="3.75"/><circle cx="399" cy="546.6" r="3.75"/><circle cx="409.5" cy="536.6" r="3.75"/><circle cx="419.8" cy="526.3" r="3.75"/><circle cx="429.3" cy="516.3" r="3.75"/><circle cx="438.8" cy="506.6" r="3.75"/><circle cx="447.2" cy="496.7" r="3.75"/><circle cx="454.5" cy="486.8" r="3.75"/><circle cx="461.6" cy="477.8" r="3.75"/><circle cx="468.5" cy="470" r="3.75"/><circle cx="474.6" cy="463.2" r="3.75"/><circle cx="479.7" cy="457.1" r="3.75"/><circle cx="484" cy="451.6" r="3.75"/><circle cx="487.9" cy="446.8" r="3.75"/><circle cx="491.1" cy="442.5" r="3.75"/><circle cx="493.8" cy="439.4" r="3.75"/><circle cx="496.1" cy="436.7" r="3.75"/><circle cx="498.1" cy="434.3" r="3.75"/><circle cx="499.9" cy="432.2" r="3.75"/><circle cx="501.4" cy="430.4" r="3.75"/></g>
<path d="M502.9 428.9C503.7 427.4 504.5 425.9 505.2 424.3C506 422.4 506.8 420.5 507.5 418.5C508.2 416.6 508.8 414.7 509.2 412.8C509.6 410.9 509.8 408.9 509.9 407C510 405.4 510 403.7 510 402.1" fill="none" stroke="#000" stroke-width="9.2" stroke-linecap="round"/>
<path d="M127.7 743C127.7 740.6 127.8 738.2 127.8 735.9C127.8 733.5 127.8 731.1 127.8 728.7C127.9 726.3 127.9 723.9 127.9 721.5C127.9 719.1 127.9 716.7 127.9 714.3C127.9 711.9 127.9 709.5 127.9 707.1C127.9 704.7 127.9 702.3 128 699.9C128 697.5 128 695.1 128 692.7C128 690.3 128 687.9 128 685.5C128 683.1 128.1 680.7 128.1 678.3C128.1 675.9 128.1 673.5 128.2 671.1C128.2 668.7 128.3 666.3 128.3 663.9C128.3 661.5 128.4 659.1 128.5 656.7C128.5 654.3 128.6 651.9 128.7 649.5C128.7 647.1 128.8 644.7 128.9 642.4C129 640 129.1 637.6 129.2 635.2C129.3 632.8 129.5 630.5 129.6 628.1C129.8 625.7 129.9 623.3 130.1 621C130.3 618.6 130.5 616.2 130.8 613.9C131 611.5 131.3 609.1 131.7 606.8C132 604.4 132.4 602 132.8 599.7C133.3 597.3 133.8 594.9 134.3 592.6C134.9 590.2 135.5 587.8 136.2 585.5C136.9 583.1 137.6 580.7 138.6 578.5C139.5 576.3 140.6 574 141.9 572.1C143.2 570.1 144.8 568.3 146.6 566.8C148.4 565.3 150.5 564.1 152.6 563.3C154.8 562.4 157.1 562.1 159.4 561.9C161.8 561.7 164.2 561.9 166.5 562.2C169 562.5 171.4 563 173.8 563.5C176.1 564 178.5 564.6 180.9 565.2C183.2 565.9 185.6 566.5 187.9 567.3C190.2 568 192.4 568.8 194.7 569.7C196.9 570.5 199.2 571.4 201.4 572.3C203.6 573.3 205.8 574.3 207.9 575.3C210.1 576.4 212.2 577.4 214.3 578.6C216.4 579.7 218.5 580.9 220.5 582.1C222.6 583.3 224.6 584.6 226.6 585.9C228.6 587.2 230.5 588.5 232.5 589.9C234.4 591.3 236.3 592.8 238.2 594.2C240.1 595.7 241.9 597.2 243.7 598.7C245.6 600.3 247.4 601.8 249.1 603.5C250.9 605.1 252.6 606.7 254.4 608.4C256.1 610.1 257.7 611.8 259.4 613.5C261 615.3 262.7 617 264.2 618.8C265.8 620.6 267.4 622.5 268.9 624.3C270.4 626.2 271.9 628.1 273.4 630C274.9 631.9 276.3 633.8 277.7 635.8C279.1 637.7 280.5 639.7 281.8 641.7C283.2 643.7 284.5 645.7 285.7 647.8C287 649.8 288.2 651.9 289.5 654C290.7 656.1 291.8 658.2 293 660.3C294.1 662.4 295.2 664.5 296.3 666.7C297.4 668.8 298.4 671 299.4 673.2C300.4 675.3 301.4 677.5 302.3 679.7C303.3 681.9 304.2 684.1 305 686.3C305.9 688.5 306.6 690.8 307.5 693C309.7 698.7 312.1 704.3 314.3 710C316.8 716.4 318.9 723 321.6 729.3C322.3 730.8 323.4 732.1 324.5 733.3C325.6 734.5 326.7 736.3 328.1 736.7C329.3 737 331 736 332.3 735.3C333.7 734.6 335.3 733.8 336.3 732.6C337.9 730.6 338.8 728.1 340 725.8C341.6 722.8 343.2 719.7 344.8 716.7C346.7 713.1 348.5 709.4 350.3 705.8C352.6 701.2 354.9 696.6 357.2 692C359.7 687 362.3 682 364.9 677C367.4 672.2 369.8 667.4 372.3 662.6" fill="none" stroke="#1208cc" stroke-width="2.3" stroke-linejoin="round" />
<path d="M127.7 743C127.7 740.6 127.8 738.2 127.8 735.8C127.8 733.4 127.8 731 127.8 728.6C127.9 726.2 127.9 723.8 127.9 721.4C127.9 719 127.9 716.6 127.9 714.2C127.9 711.7 127.9 709.3 127.9 706.9C127.9 704.5 127.9 702.1 128 699.7C128 697.3 128 694.8 128 692.4C128 690 128 687.6 128 685.2C128 682.8 128.1 680.4 128.1 677.9C128.1 675.5 128.1 673.1 128.2 670.7C128.2 668.3 128.2 665.9 128.3 663.5C128.3 661 128.4 658.6 128.4 656.2C128.5 653.8 128.5 651.4 128.6 649C128.7 646.6 128.8 644.2 128.9 641.8C128.9 639.4 129 637 129.1 634.6C129.3 632.2 129.4 629.8 129.5 627.4C129.6 625 129.8 622.6 130 620.3C130.2 617.9 130.4 615.5 130.6 613.1C130.9 610.7 131.2 608.3 131.5 606C131.8 603.6 132.2 601.2 132.7 598.8C133.1 596.4 133.6 594 134.2 591.7C134.7 589.3 135.3 586.9 136.1 584.5C136.8 582.2 137.5 579.8 138.5 577.5C139.4 575.3 140.5 573.1 141.9 571.2C143.2 569.2 144.8 567.4 146.6 566C148.4 564.5 150.5 563.3 152.7 562.5C154.8 561.7 157.2 561.3 159.5 561.1C161.9 560.8 164.4 561 166.8 561.2C169.3 561.4 171.7 561.9 174.1 562.4C176.5 562.9 178.9 563.4 181.3 564.1C183.6 564.7 185.9 565.4 188.2 566.2C190.5 567 192.8 567.8 195 568.7C197.2 569.6 199.4 570.6 201.6 571.6C203.8 572.6 205.9 573.7 208 574.8C210.2 575.9 212.3 577 214.4 578.2C216.5 579.4 218.5 580.6 220.6 581.8C222.7 583.1 224.7 584.4 226.7 585.7C228.7 587 230.7 588.4 232.7 589.7C234.7 591.1 236.7 592.5 238.6 594C240.5 595.4 242.4 596.9 244.3 598.4C246.2 600 248 601.5 249.9 603.1C251.7 604.7 253.5 606.3 255.2 608C257 609.6 258.7 611.3 260.3 613C262 614.8 263.7 616.5 265.3 618.3C266.9 620.1 268.4 622 269.9 623.8C271.5 625.7 273 627.6 274.4 629.5C275.9 631.4 277.3 633.3 278.7 635.3C280.1 637.3 281.4 639.3 282.7 641.3C284.1 643.3 285.3 645.3 286.6 647.4C287.8 649.5 289.1 651.6 290.3 653.7C291.4 655.8 292.6 657.9 293.7 660C294.9 662.1 295.9 664.3 297 666.5C298.1 668.6 299.1 670.8 300.1 673C301.1 675.2 302.1 677.4 303 679.6C304 681.8 304.9 684.1 305.8 686.3C306.7 688.5 307.5 690.8 308.4 693C310.6 698.5 312.8 704 315 709.5C317.5 715.8 319.6 722.2 322.3 728.3C322.9 729.7 324 730.9 325 732C325.9 733 326.9 734.2 328.1 734.5C329.3 734.8 330.8 734.4 332 734C333.3 733.6 334.9 733 335.8 732C337.4 730.2 338.3 727.7 339.5 725.5C341.2 722.5 342.8 719.5 344.4 716.5C346.3 712.9 348.1 709.2 350 705.6C352.3 701.1 354.6 696.5 356.9 692C359.5 687 362 682 364.6 677C367.1 672.2 369.5 667.4 372 662.6C374.7 657.4 377.3 652.2 380 647" fill="none" stroke="#30e2ee" stroke-width="2.3" stroke-linejoin="round" />
<path d="M127.7 743C127.7 740.6 127.7 738.2 127.7 735.9C127.8 733.5 127.8 731.1 127.8 728.7C127.8 726.3 127.8 723.9 127.8 721.5C127.8 719.1 127.8 716.7 127.8 714.3C127.9 711.9 127.9 709.5 127.9 707.1C127.9 704.7 127.9 702.3 127.9 699.9C127.9 697.5 127.9 695.1 128 692.7C128 690.3 128 687.9 128 685.5C128 683.1 128.1 680.7 128.1 678.3C128.1 675.8 128.1 673.4 128.2 671C128.2 668.6 128.2 666.2 128.3 663.8C128.3 661.4 128.4 659 128.4 656.6C128.5 654.2 128.5 651.8 128.6 649.4C128.7 647.1 128.7 644.7 128.8 642.3C128.9 639.9 128.9 637.5 129 635.1C129.1 632.7 129.2 630.4 129.3 628C129.4 625.6 129.5 623.2 129.7 620.9C129.8 618.5 130 616.1 130.2 613.8C130.4 611.4 130.6 609 130.9 606.7C131.2 604.3 131.6 601.9 132 599.6C132.4 597.2 132.8 594.8 133.4 592.4C133.9 590 134.5 587.7 135.2 585.3C135.9 582.9 136.7 580.5 137.6 578.2C138.5 575.9 139.5 573.6 140.8 571.5C142 569.5 143.4 567.6 145.1 565.9C146.7 564.4 148.6 562.9 150.6 562C152.6 561 154.9 560.4 157.1 560C159.4 559.7 161.9 559.7 164.2 559.9C166.6 560 169.1 560.4 171.5 560.8C173.9 561.3 176.3 561.8 178.7 562.4C181.1 562.9 183.5 563.6 185.8 564.2C188.1 564.9 190.4 565.6 192.7 566.4C195 567.2 197.2 568.1 199.5 569C201.7 569.8 203.9 570.8 206.1 571.8C208.2 572.8 210.4 573.8 212.5 574.9C214.6 576 216.7 577.1 218.8 578.3C220.9 579.5 222.9 580.7 224.9 582C226.9 583.2 228.9 584.5 230.9 585.9C232.8 587.2 234.8 588.6 236.7 590C238.6 591.5 240.5 592.9 242.3 594.4C244.2 595.9 246 597.5 247.8 599C249.6 600.6 251.4 602.2 253.1 603.9C254.9 605.5 256.6 607.2 258.3 608.9C260 610.6 261.6 612.3 263.3 614.1C264.9 615.8 266.5 617.6 268.1 619.4C269.7 621.3 271.3 623.1 272.8 625C274.3 626.8 275.9 628.7 277.3 630.6C278.8 632.5 280.3 634.5 281.7 636.4C283.1 638.4 284.5 640.3 285.9 642.3C287.3 644.3 288.6 646.3 289.9 648.4C291.3 650.4 292.5 652.4 293.8 654.5C295.1 656.5 296.3 658.6 297.5 660.7C298.7 662.8 299.9 664.9 301.1 667C302.2 669.1 303.4 671.2 304.5 673.3C305.6 675.4 306.7 677.5 307.7 679.7C308.8 681.8 309.8 683.9 310.8 686.1C311.8 688.2 312.6 690.4 313.7 692.5C316.1 697.2 318.4 701.9 321 706.5C322.9 709.9 324.7 713.6 327.1 716.6C328 717.7 329.6 718.4 331 718.7C332.2 719 333.7 718.9 334.8 718.4C336.2 717.7 337.3 716.2 338.5 715C340.2 713.2 341.9 711.4 343.5 709.5C346.1 706.5 348.8 703.5 351.1 700.2C353.7 696.5 355.8 692.4 358.1 688.5C360.3 684.7 362.5 680.9 364.6 677C367.2 672.2 369.5 667.4 372 662.6C374.7 657.4 377.3 652.2 380 647" fill="none" stroke="#0c7d10" stroke-width="2.3" stroke-linejoin="round" />
<path d="M127.7 743C127.7 740.6 127.7 738.2 127.7 735.8C127.8 733.4 127.8 731 127.8 728.6C127.8 726.2 127.8 723.9 127.8 721.5C127.8 719.1 127.8 716.7 127.9 714.3C127.9 711.8 127.9 709.4 127.9 707C127.9 704.6 127.9 702.2 127.9 699.8C127.9 697.4 127.9 695 128 692.6C128 690.2 128 687.8 128 685.4C128 683 128 680.6 128.1 678.2C128.1 675.8 128.1 673.4 128.1 671C128.2 668.6 128.2 666.2 128.2 663.8C128.3 661.4 128.3 659 128.4 656.6C128.4 654.2 128.5 651.8 128.5 649.4C128.6 647 128.6 644.6 128.7 642.2C128.8 639.8 128.8 637.4 128.9 635C129 632.6 129 630.2 129.1 627.8C129.2 625.5 129.3 623.1 129.5 620.7C129.6 618.3 129.7 615.9 129.9 613.6C130.1 611.2 130.3 608.8 130.6 606.4C130.9 604 131.2 601.7 131.6 599.3C132 596.9 132.4 594.5 132.9 592.2C133.4 589.8 134 587.4 134.7 585C135.4 582.7 136.1 580.3 137 577.9C137.9 575.7 138.9 573.4 140.1 571.3C141.3 569.2 142.6 567.2 144.2 565.5C145.8 563.9 147.6 562.4 149.6 561.4C151.6 560.3 153.8 559.5 156 559.1C158.3 558.6 160.7 558.5 163.1 558.5C165.5 558.5 168 558.8 170.4 559.1C172.9 559.5 175.3 559.9 177.7 560.4C180.1 560.9 182.5 561.5 184.9 562.1C187.2 562.7 189.5 563.4 191.8 564.2C194.1 564.9 196.4 565.7 198.6 566.6C200.9 567.4 203.1 568.4 205.3 569.3C207.5 570.3 209.6 571.3 211.7 572.4C213.9 573.5 216 574.6 218.1 575.8C220.1 576.9 222.2 578.1 224.2 579.4C226.3 580.7 228.3 582 230.2 583.3C232.2 584.7 234.2 586 236.1 587.5C238 588.9 239.9 590.3 241.8 591.8C243.7 593.3 245.5 594.9 247.4 596.4C249.2 598 251 599.6 252.8 601.2C254.5 602.8 256.3 604.5 258 606.1C259.8 607.8 261.5 609.5 263.2 611.2C264.9 612.9 266.5 614.7 268.2 616.5C269.8 618.2 271.4 620 273 621.8C274.6 623.6 276.2 625.4 277.8 627.2C279.3 629 280.9 630.9 282.4 632.7C283.9 634.6 285.4 636.4 286.9 638.3C288.4 640.2 289.8 642.1 291.2 644C292.7 645.9 294.1 647.8 295.5 649.7C296.9 651.7 298.3 653.6 299.7 655.6C301 657.5 302.4 659.5 303.7 661.5C305 663.5 306.4 665.5 307.6 667.5C308.9 669.5 310.2 671.6 311.4 673.6C312.7 675.7 313.9 677.8 315.1 679.9C316.2 682 317.3 684.1 318.5 686.2C320.4 689.6 322 693.1 324.2 696.3C325.5 698.2 327.2 700 329 701.3C330.4 702.3 332.1 703.1 333.8 703.3C335.4 703.5 337.2 703 338.7 702.4C340.1 701.9 341.4 701 342.5 700C345.2 697.6 347.6 694.9 350 692.3C352.4 689.7 354.7 687 356.9 684.2C359.3 681 361.6 677.7 363.8 674.4C365.8 671.3 367.7 668.2 369.6 665C371.6 661.6 373.5 658.1 375.4 654.6C377.4 651 379.1 647.2 381.1 643.6C383.4 639.3 385.9 635.2 388.1 630.9C391.9 623.6 395.4 616.1 399.2 608.7C402.2 602.8 405.4 597 408.5 591.1" fill="none" stroke="#8418d2" stroke-width="2.3" stroke-linejoin="round" />
<path d="M127.7 743C127.7 740.6 127.7 738.3 127.7 735.9C127.7 733.5 127.7 731.2 127.8 728.8C127.8 726.4 127.8 724.1 127.8 721.7C127.8 719.3 127.8 717 127.8 714.6C127.8 712.2 127.8 709.8 127.9 707.5C127.9 705.1 127.9 702.7 127.9 700.4C127.9 698 127.9 695.6 127.9 693.2C128 690.9 128 688.5 128 686.1C128 683.8 128 681.4 128.1 679C128.1 676.6 128.1 674.3 128.1 671.9C128.2 669.5 128.2 667.2 128.2 664.8C128.3 662.4 128.3 660.1 128.4 657.7C128.4 655.3 128.4 652.9 128.5 650.6C128.5 648.2 128.6 645.8 128.6 643.5C128.7 641.1 128.7 638.7 128.8 636.4C128.8 634 128.9 631.6 129 629.3C129 626.9 129.1 624.5 129.2 622.2C129.3 619.8 129.4 617.5 129.5 615.1C129.7 612.8 129.8 610.4 130 608C130.3 605.7 130.5 603.3 130.8 601C131.2 598.6 131.5 596.3 132 594C132.5 591.6 133 589.3 133.6 587C134.2 584.6 134.9 582.3 135.7 580C136.5 577.7 137.4 575.4 138.5 573.3C139.5 571.1 140.6 569 142 567.1C143.3 565.3 144.8 563.5 146.5 562.1C148.2 560.7 150.2 559.5 152.2 558.7C154.3 557.9 156.7 557.5 159 557.2C161.5 556.9 164 557 166.5 557.2C169 557.3 171.5 557.6 174 558C176.4 558.4 178.7 558.8 181.1 559.3C183.3 559.8 185.6 560.4 187.9 561C190.1 561.5 192.3 562.2 194.6 562.9C196.8 563.6 199 564.3 201.3 565.1C203.5 565.8 205.7 566.7 207.9 567.5C210.1 568.4 212.3 569.3 214.4 570.3C216.6 571.3 218.7 572.3 220.8 573.3C223 574.4 225.1 575.5 227.1 576.6C229.2 577.8 231.3 579 233.3 580.2C235.3 581.4 237.3 582.7 239.3 584.1C241.2 585.4 243.2 586.8 245.1 588.2C247 589.6 248.8 591.1 250.7 592.6C252.5 594.1 254.3 595.6 256.1 597.1C257.9 598.7 259.7 600.3 261.5 601.9C263.2 603.5 265 605.1 266.7 606.8C268.4 608.4 270.1 610.1 271.8 611.8C273.5 613.4 275.2 615.1 276.8 616.8C278.5 618.5 280.1 620.2 281.8 621.9C283.4 623.6 285.1 625.4 286.7 627.1C288.3 628.8 290 630.5 291.6 632.2C293.2 633.9 294.8 635.5 296.5 637.2C298.1 638.9 299.7 640.6 301.3 642.3C302.9 644 304.5 645.7 306.1 647.4C307.7 649.2 309.3 650.9 310.9 652.7C312.5 654.4 314.1 656.2 315.7 658C317.3 659.9 318.9 661.7 320.5 663.6C322.1 665.4 323.6 667.3 325.3 669.1C327 670.8 328.7 672.5 330.6 674C332.4 675.4 334.4 676.7 336.5 677.7C338.6 678.6 340.9 679.4 343.1 679.7C345.3 679.9 347.7 679.8 349.7 679.2C351.8 678.6 353.8 677.2 355.6 675.9C357.5 674.4 359.1 672.4 360.7 670.6C362.3 668.8 363.8 666.8 365.3 664.9C366.7 663 368.1 661 369.5 659.1C370.8 657.1 372.1 655.2 373.5 653.2C374.8 651.2 376.1 649.2 377.3 647.2C378.6 645.3 379.8 643.2 381.1 641.2C382.3 639.2 383.5 637.2 384.7 635.1C385.9 633.1 387.1 631.1 388.3 629C389.5 626.9 390.6 624.9 391.8 622.8C392.9 620.7 394 618.7 395.2 616.6C396.3 614.5 397.4 612.4 398.5 610.3C399.6 608.2 400.7 606.1 401.8 604.1C402.9 602 404 599.9 405.1 597.8C406.2 595.7 407.3 593.6 408.4 591.5C409.5 589.3 410.6 587.2 411.7 585.1C412.8 583 413.9 580.9 415 578.8C416.1 576.8 417.2 574.7 418.3 572.6C419.5 570.5 420.6 568.4 421.7 566.3C422.8 564.2 424 562.1 425.1 560.1C426.3 558 427.4 555.9 428.6 553.9C429.7 551.8 430.9 549.7 432 547.7C433.2 545.6 434.4 543.5 435.5 541.5C436.7 539.4 437.9 537.4 439.1 535.3C440.2 533.3 441.4 531.2 442.6 529.2C443.8 527.1 445 525.1 446.2 523C447.4 521 448.6 518.9 449.8 516.9C451 514.9 452.2 512.8 453.5 510.8C454.7 508.8 455.9 506.7 457.1 504.7C458.3 502.7 459.6 500.6 460.8 498.6C462 496.6 463.2 494.5 464.5 492.5C465.7 490.5 466.9 488.5 468.2 486.4C469.4 484.4 470.6 482.4 471.9 480.4C473.1 478.4 474.3 476.3 475.6 474.3C476.8 472.3 478.1 470.3 479.3 468.3C480.5 466.2 481.8 464.2 483 462.2C484.3 460.2 485.5 458.2 486.7 456.1C488 454.1 489.2 452.1 490.5 450.1C491.7 448.1 492.9 446 494.2 444C495.4 442 496.7 440 497.9 438C499.1 435.9 500.4 433.9 501.6 431.9C502.9 429.9 504.1 427.9 505.3 425.8C506.6 423.8 507.8 421.8 509 419.8C510.2 417.7 511.5 415.7 512.7 413.7C513.9 411.7 515.1 409.6 516.4 407.6C517.6 405.6 518.8 403.5 520 401.5" fill="none" stroke="#e00f18" stroke-width="2.3" stroke-linejoin="round" />
</g>
<rect x="71.8" y="397.8" width="446.6" height="345.1" fill="none" stroke="#000" stroke-width="1.9"/>
<rect x="188.8" y="407.6" width="210.8" height="144.7" fill="#fff" stroke="#000" stroke-width="1.5"/>
<circle cx="211.2" cy="420.1" r="3.8" fill="none" stroke="#000" stroke-width="1.8"/>
<g font-size="14.5" font-weight="bold" stroke="#000" stroke-width="0.3">
<text x="238.5" y="425.4">exp 300K</text>
<path d="M194.3 441.5H228.5" stroke="#1208cc" stroke-width="2.3"/>
<text x="238.5" y="448.3">sim. total, <tspan font-family="'Liberation Serif', 'DejaVu Serif', serif" font-weight="normal" font-size="16.2" stroke-width="0.35">η</tspan><tspan dy="-8.3" font-size="10.3">(a)</tspan><tspan dy="8.3">=25meV</tspan></text>
<path d="M194.3 465.3H228.5" stroke="#30e2ee" stroke-width="2.3"/>
<text x="238.5" y="472.1">sim. total, <tspan font-family="'Liberation Serif', 'DejaVu Serif', serif" font-weight="normal" font-size="16.2" stroke-width="0.35">η</tspan><tspan dy="-8.3" font-size="10.3">(a)</tspan><tspan dy="8.3">=50meV</tspan></text>
<path d="M194.3 489.7H228.5" stroke="#0c7d10" stroke-width="2.3"/>
<text x="238.5" y="496.5">sim. total, <tspan font-family="'Liberation Serif', 'DejaVu Serif', serif" font-weight="normal" font-size="16.2" stroke-width="0.35">η</tspan><tspan dy="-8.3" font-size="10.3">(a)</tspan><tspan dy="8.3">=75meV</tspan></text>
<path d="M194.3 513.9H228.5" stroke="#8418d2" stroke-width="2.3"/>
<text x="238.5" y="520.7">sim. total, <tspan font-family="'Liberation Serif', 'DejaVu Serif', serif" font-weight="normal" font-size="16.2" stroke-width="0.35">η</tspan><tspan dy="-8.3" font-size="10.3">(a)</tspan><tspan dy="8.3">=100meV</tspan></text>
<path d="M194.3 537.7H228.5" stroke="#e00f18" stroke-width="2.3"/>
<text x="238.5" y="544.5">sim. total, <tspan font-family="'Liberation Serif', 'DejaVu Serif', serif" font-weight="normal" font-size="16.2" stroke-width="0.35">η</tspan><tspan dy="-8.3" font-size="10.3">(a)</tspan><tspan dy="8.3">=150meV</tspan></text>
</g>
<g class="r">
<text x="34.4" y="730.9" font-size="18.9">10<tspan dy="-11.7" font-size="13.3">-8</tspan></text>
<text x="34.4" y="655.9" font-size="18.9">10<tspan dy="-11.7" font-size="13.3">-7</tspan></text>
<text x="34.4" y="580.9" font-size="18.9">10<tspan dy="-11.7" font-size="13.3">-6</tspan></text>
<text x="34.4" y="505.9" font-size="18.9">10<tspan dy="-11.7" font-size="13.3">-5</tspan></text>
<text x="34.4" y="430.9" font-size="18.9">10<tspan dy="-11.7" font-size="13.3">-4</tspan></text>
<text x="72.4" y="761.8" font-size="18.9" text-anchor="middle">-0.1</text>
<text x="127.9" y="761.8" font-size="18.9" text-anchor="middle">0.0</text>
<text x="183.7" y="761.8" font-size="18.9" text-anchor="middle">0.1</text>
<text x="239.5" y="761.8" font-size="18.9" text-anchor="middle">0.2</text>
<text x="295.4" y="761.8" font-size="18.9" text-anchor="middle">0.3</text>
<text x="351.2" y="761.8" font-size="18.9" text-anchor="middle">0.4</text>
<text x="407" y="761.8" font-size="18.9" text-anchor="middle">0.5</text>
<text x="462.8" y="761.8" font-size="18.9" text-anchor="middle">0.6</text>
<text x="296.2" y="782.7" font-size="20.7" text-anchor="middle">Voltage (V)</text>
<text transform="translate(23.9 570.1) rotate(-90)" font-size="20.65" text-anchor="middle">Current Density (A/μm<tspan dy="-11.5" font-size="15">2</tspan><tspan dy="11.5">)</tspan></text>
</g>
<text x="91.3" y="428.2" font-size="20" font-weight="bold" stroke="#000" stroke-width="0.25">b)</text>
</g></g></svg>
</body></html>
